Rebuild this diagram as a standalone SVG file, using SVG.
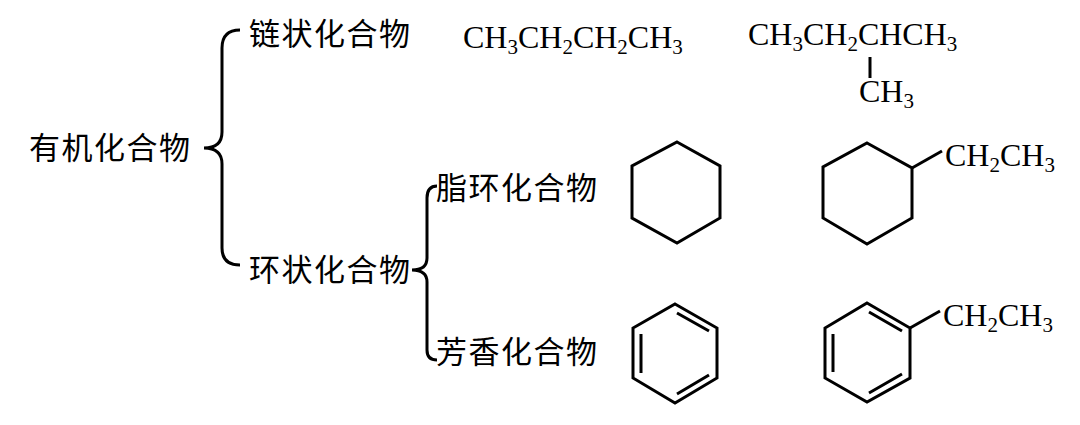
<svg xmlns="http://www.w3.org/2000/svg" width="1080" height="425" viewBox="0 0 1080 425">
<style>
.cn{font-family:"Noto Sans CJK SC",sans-serif;font-size:31px;letter-spacing:1.5px;fill:#000}
.f{font-family:"Liberation Serif",serif;font-size:32px;fill:#000}
.s{font-size:21px}
.ln{fill:none;stroke:#000;stroke-width:3;stroke-linejoin:miter}
</style>
<rect width="1080" height="425" fill="#fff"/>
<g id="labels">
<text class="cn" x="29" y="159">有机化合物</text>
<text class="cn" x="249" y="45">链状化合物</text>
<text class="cn" x="249" y="281">环状化合物</text>
<text class="cn" x="436" y="199">脂环化合物</text>
<text class="cn" x="436" y="363">芳香化合物</text>
</g>
<g id="connectors">
<path class="ln" d="M240,30 Q222,30 222,48 L222,132 Q222,148 204,148 Q222,148 222,164 L222,248 Q222,265 240,265"/>
<path class="ln" d="M437,186 Q427,186 427,198 L427,258 Q427,270 412,270 Q427,270 427,282 L427,350 Q427,360 437,360"/>
</g>
<g id="butane"><text class="f" x="463" y="48">CH<tspan class="s" dy="6">3</tspan><tspan dy="-6">CH</tspan><tspan class="s" dy="6">2</tspan><tspan dy="-6">CH</tspan><tspan class="s" dy="6">2</tspan><tspan dy="-6">CH</tspan><tspan class="s" dy="6">3</tspan></text></g>
<g id="isopentane"><text class="f" x="748" y="45">CH<tspan class="s" dy="6">3</tspan><tspan dy="-6">CH</tspan><tspan class="s" dy="6">2</tspan><tspan dy="-6">CHCH</tspan><tspan class="s" dy="6">3</tspan></text>
<line class="ln" x1="870" y1="57" x2="870" y2="78"/>
<text class="f" x="859" y="102">CH<tspan class="s" dy="6">3</tspan></text></g>
<g id="cyclohexane"><polygon class="ln" points="677,142 720,166 720,218 677,243 632,218 632,166"/></g>
<g id="ethylcyclohexane"><polygon class="ln" points="867,143 912,168 912,218 867,244 823,218 823,167"/>
<line class="ln" x1="912" y1="168" x2="942" y2="151"/>
<text class="f" x="945" y="166">CH<tspan class="s" dy="6">2</tspan><tspan dy="-6">CH</tspan><tspan class="s" dy="6">3</tspan></text></g>
<g id="benzene"><polygon class="ln" points="675,304 717,328 717,378 675,403 633,378 633,328"/>
<path class="ln" d="M677,313 L709,331 M641,334 L641,373 M677,394 L709,375"/></g>
<g id="ethylbenzene"><polygon class="ln" points="867,303 910,328 910,378 867,402 825,378 825,328"/>
<path class="ln" d="M869,312 L902,331 M833,334 L833,372 M869,393 L902,374"/>
<line class="ln" x1="910" y1="328" x2="940" y2="311"/>
<text class="f" x="943" y="326">CH<tspan class="s" dy="6">2</tspan><tspan dy="-6">CH</tspan><tspan class="s" dy="6">3</tspan></text></g>
</svg>
